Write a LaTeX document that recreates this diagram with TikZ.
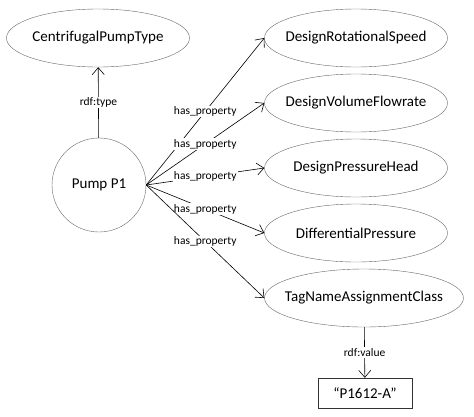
\documentclass[tikz,border=0pt]{standalone}
\usepackage{fontspec}
\setmainfont{Carlito}
\usetikzlibrary{shapes.geometric,arrows.meta}
\tikzset{
  classnode/.style={draw=gray!80!black,ellipse,inner xsep=-25pt,inner ysep=0pt,minimum width=183pt,minimum height=58pt,font=\fontsize{15}{17}\selectfont},
  propedge/.style={draw=black,semithick,-{Straight Barb[length=7pt,width=12pt]}},
  edgelabel/.style={fill=white,inner sep=1pt,font=\fontsize{11.5}{13}\selectfont,midway}
}
\begin{document}
\begin{tikzpicture}[x=1pt,y=-1pt]
        \useasboundingbox (0,0) rectangle (474,416);
        % class nodes
        \node[classnode] (pumptype) at (98,38) {CentrifugalPumpType};
        \node[draw=gray!80!black,circle,minimum size=94pt,inner sep=0pt,font=\fontsize{15}{17}\selectfont] (pump) at (99,185) {Pump P1};
        \node[classnode] (speed) at (356,38) {DesignRotationalSpeed};
        \node[classnode] (flow) at (356,103) {DesignVolumeFlowrate};
        \node[classnode] (head) at (356,168) {DesignPressureHead};
        \node[classnode] (diffp) at (356,233) {DifferentialPressure};
        \node[classnode,minimum width=199pt] (tagname) at (364,298) {TagNameAssignmentClass};
        \node[draw=black!80,rectangle,minimum width=94pt,minimum height=30pt,font=\fontsize{15}{17}\selectfont] (tagvalue) at (365,393) {“P1612-A”};
        % edges
        \draw[propedge] (pump) -- node[edgelabel] {rdf:type} (pumptype);
        \draw[propedge] (pump.east) -- node[edgelabel] {has\_property} (speed.west);
        \draw[propedge] (pump.east) -- node[edgelabel] {has\_property} (flow.west);
        \draw[propedge] (pump.east) -- node[edgelabel] {has\_property} (head.west);
        \draw[propedge] (pump.east) -- node[edgelabel] {has\_property} (diffp.west);
        \draw[propedge] (pump.east) -- node[edgelabel] {has\_property} (tagname.west);
        \draw[propedge] (tagname) -- node[edgelabel] {rdf:value} (tagvalue);
\end{tikzpicture}
\end{document}
